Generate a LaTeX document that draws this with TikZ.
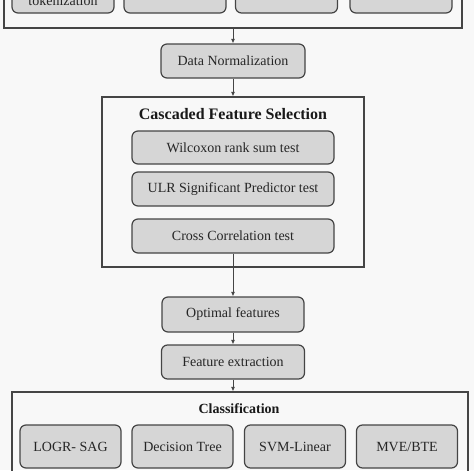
\documentclass[tikz,border=0pt]{standalone}
\usepackage{fontspec}
\setmainfont{Liberation Serif}
\usetikzlibrary{arrows.meta}
\definecolor{boxgray}{HTML}{D6D6D6}
\definecolor{edgegray}{HTML}{454545}
\definecolor{paper}{HTML}{F8F8F8}

\begin{document}
\begin{tikzpicture}[x=1pt,y=-1pt,
  stepbox/.style={draw=edgegray, line width=1.2pt, fill=boxgray, rounded corners=6pt,
    inner sep=0pt, font=\fontsize{14}{16}\selectfont, text=black!85},
  frame/.style={draw=edgegray, line width=1.2pt, inner sep=0pt},
  flow/.style={-{Latex[length=4.5pt,width=4pt]}, edgegray, line width=0.9pt}]
\useasboundingbox (0,0) rectangle (474,474);
\fill[white] (0,0) rectangle (474,474);
\clip (0,0) rectangle (474,470);
\fill[paper] (0,0) rectangle (474,470);

% preprocessing (cut off at the top)
\node[frame, minimum width=458pt, minimum height=88pt] (prep) at (233,-16) {};
\foreach \x/\nm in {63/tok,175/pre2,286.5/pre3,401/pre4}
  \node[stepbox, minimum width=102pt, minimum height=35pt] (\nm) at (\x,-4.5) {};
\node[font=\fontsize{14}{16}\selectfont, text=black!85] (toktext) at (63,1) {tokenization};

\node[stepbox, minimum width=144pt, minimum height=34pt] (norm) at (233,61) {Data Normalization};

% cascaded feature selection
\node[frame, minimum width=262pt, minimum height=170pt] (cfs) at (233,182) {};
\node[font=\fontsize{16}{18}\selectfont\bfseries, text=black!90] (cfstitle) at (233,114) {Cascaded Feature Selection};
\node[stepbox, minimum width=202pt, minimum height=33pt] (wilc) at (233,147.5) {Wilcoxon rank sum test};
\node[stepbox, minimum width=202pt, minimum height=34pt] (ulr) at (233,189) {ULR Significant Predictor test};
\node[stepbox, minimum width=202pt, minimum height=34pt] (cross) at (233,236) {Cross Correlation test};

\node[stepbox, minimum width=142pt, minimum height=35pt] (opt) at (233,314.5) {Optimal features};
\node[stepbox, minimum width=143pt, minimum height=34pt] (feat) at (233,362) {Feature extraction};

% classification (cut off at the bottom)
\node[frame, minimum width=456pt, minimum height=128pt] (cls) at (240,456) {};
\node[font=\fontsize{14}{16}\selectfont\bfseries, text=black!90] (clstitle) at (239,409) {Classification};
\foreach \x/\nm/\txt in {70.5/logr/{LOGR- SAG},182.5/dtree/{Decision Tree},295/svm/{SVM-Linear},407/mve/{MVE/BTE}}
  \node[stepbox, minimum width=101pt, minimum height=43pt] (\nm) at (\x,446.5) {\txt};

\draw[flow] (prep) -- (norm);
\draw[flow] (norm) -- (cfs);
\draw[flow] (cross) -- (opt);
\draw[flow] (opt) -- (feat);
\draw[flow] (feat.south) -- (feat.south |- cls.north);
\end{tikzpicture}
\end{document}
